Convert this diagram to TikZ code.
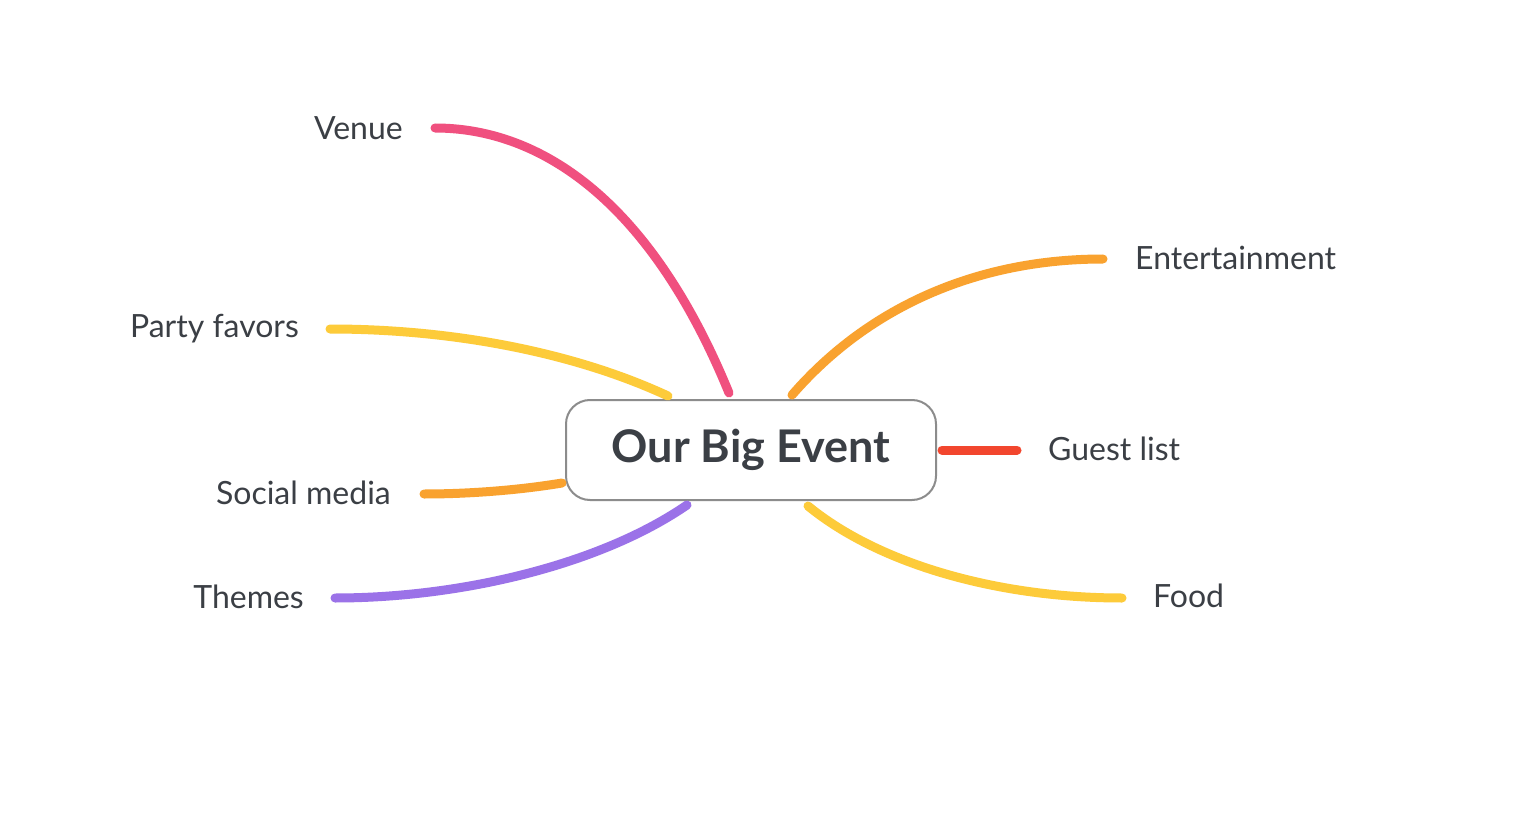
\documentclass[tikz,border=0pt]{standalone}
\usepackage{fontspec}
\setmainfont{Lato}
\begin{document}
\begin{tikzpicture}[x=1pt,y=-1pt,
 br/.style={line width=9pt,line cap=round},
 lbl/.style={text=txt,font=\fontsize{32}{34}\selectfont,inner sep=0pt}]
\definecolor{txt}{HTML}{3B3F45}
\definecolor{cpink}{HTML}{F0507F}
\definecolor{cyel}{HTML}{FDCB3A}
\definecolor{corg}{HTML}{F9A22F}
\definecolor{cpur}{HTML}{9B72E8}
\definecolor{cred}{HTML}{F2462E}
\useasboundingbox[fill=white] (0,0) rectangle (1536,826);
\node[draw=gray!90,line width=2pt,rounded corners=24pt,minimum width=370pt,minimum height=100pt,text=txt,font=\bfseries\fontsize{45}{48}\selectfont] (c) at (751,450) {Our Big Event};
\coordinate (v0) at (729,393); \coordinate (v1) at (435,128);
\coordinate (p0) at (668,396); \coordinate (p1) at (330,329);
\coordinate (s0) at (562,483); \coordinate (s1) at (424,494);
\coordinate (t0) at (687,505); \coordinate (t1) at (335,598);
\coordinate (e0) at (792,395); \coordinate (e1) at (1103,259);
\coordinate (g0) at (942,450); \coordinate (g1) at (1017,450);
\coordinate (f0) at (808,506); \coordinate (f1) at (1122,598);
\draw[br,cpink] (v0) .. controls (650,200) and (540,128) .. (v1);
\draw[br,cyel] (p0) .. controls (580,355) and (460,329) .. (p1);
\draw[br,corg] (s0) .. controls (520,490) and (470,494) .. (s1);
\draw[br,cpur] (t0) .. controls (600,565) and (460,598) .. (t1);
\draw[br,corg] (e0) .. controls (870,305) and (980,259) .. (e1);
\draw[br,cred] (g0) -- (g1);
\draw[br,cyel] (f0) .. controls (880,565) and (1000,598) .. (f1);
\node[lbl,anchor=east] (lv) at (403,128) {Venue};
\node[lbl,anchor=east] (lp) at (299,329) {Party favors};
\node[lbl,anchor=east] (ls) at (391,493) {Social media};
\node[lbl,anchor=east] (lt) at (304,597) {Themes};
\node[lbl,anchor=west] (le) at (1135,258) {Entertainment};
\node[lbl,anchor=west] (lg) at (1048,449) {Guest list};
\node[lbl,anchor=west] (lf) at (1153,596) {Food};
\end{tikzpicture}
\end{document}
